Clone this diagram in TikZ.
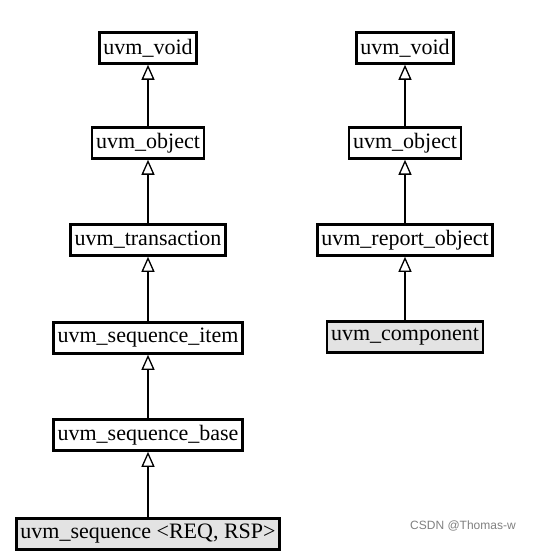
\documentclass[tikz,border=0pt]{standalone}
\usepackage{fontspec}
\setmainfont{Liberation Serif}
\newfontfamily\markfont{Liberation Sans}
\usetikzlibrary{arrows.meta}

\tikzset{
    cls/.style={draw,line width=2.6pt,fill=white,inner xsep=4pt,inner ysep=0pt,
        minimum height=31pt,font=\fontsize{22}{22}\selectfont},
    leaf/.style={cls,fill=gray!22},
    inherit/.style={line width=1.2pt,-{Triangle[open,length=15pt,width=13pt,line width=1.3pt]}}
}

\begin{document}
\begin{tikzpicture}[x=1pt,y=-1pt]
    \useasboundingbox (0,0) rectangle (534,553);
    % left column
    \node[cls] (lvoid) at (148,48) {uvm\_void};
    \node[cls] (lobj) at (148,143) {uvm\_object};
    \node[cls] (trans) at (148,240) {uvm\_transaction};
    \node[cls] (item) at (148,338) {uvm\_sequence\_item};
    \node[cls] (base) at (148,435) {uvm\_sequence\_base};
    \node[leaf] (seq) at (148,534) {uvm\_sequence <REQ, RSP>};

    % right column
    \node[cls] (rvoid) at (405,48) {uvm\_void};
    \node[cls] (robj) at (405,143) {uvm\_object};
    \node[cls] (report) at (405,240) {uvm\_report\_object};
    \node[leaf] (comp) at (405,337) {uvm\_component};

    \draw[inherit] (lobj) -- (lvoid);
    \draw[inherit] (trans) -- (lobj);
    \draw[inherit] (item) -- (trans);
    \draw[inherit] (base) -- (item);
    \draw[inherit] (seq) -- (base);

    \draw[inherit] (robj) -- (rvoid);
    \draw[inherit] (report) -- (robj);
    \draw[inherit] (comp) -- (report);

    \node[text=gray,font=\markfont\fontsize{12}{12}\selectfont] (mark) at (463,526) {CSDN @Thomas-w};
\end{tikzpicture}
\end{document}
